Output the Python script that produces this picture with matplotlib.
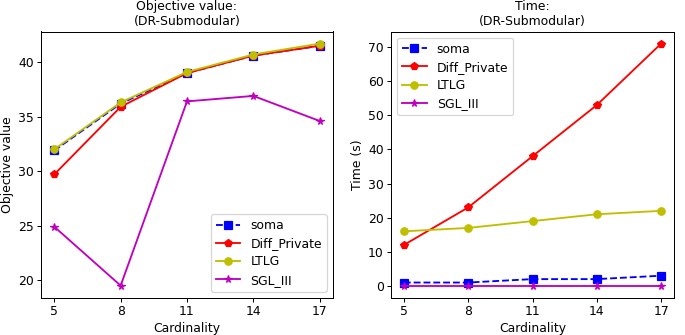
import matplotlib
matplotlib.use("Agg")
import matplotlib.pyplot as plt

cardinality = [5, 8, 11, 14, 17]
obj_soma = [31.9, 36.2, 39.0, 40.6, 41.5]
obj_diff = [29.7, 35.9, 39.0, 40.6, 41.5]
obj_ltlg = [32.0, 36.3, 39.1, 40.7, 41.7]
obj_sgl = [24.9, 19.5, 36.4, 36.9, 34.6]

time_soma = [1, 1, 2, 2, 3]
time_diff = [12, 23, 38, 53, 71]
time_ltlg = [16, 17, 19, 21, 22]
time_sgl = [0.1, 0.1, 0.1, 0.1, 0.1]

DPI = 89
W, H = 685, 335
plt.rcParams['xtick.major.pad'] = 2.5
plt.rcParams['ytick.major.pad'] = 2.5
plt.rcParams['legend.labelspacing'] = 0.42
fig = plt.figure(figsize=(W / DPI, H / DPI), dpi=DPI)
ax1 = fig.add_axes([41 / W, 1 - 297.7 / H, 292 / W, 266.2 / H])
ax2 = fig.add_axes([391 / W, 1 - 297.7 / H, 283 / W, 266.2 / H])

def draw(ax, soma, diff, ltlg, sgl):
    ax.plot(cardinality, soma, 'b--s', label='soma')
    ax.plot(cardinality, diff, 'r-p', label='Diff_Private')
    ax.plot(cardinality, ltlg, 'y-o', label='LTLG')
    ax.plot(cardinality, sgl, 'm-*', label='SGL_III')
    ax.set_xticks(cardinality)
    ax.set_xlabel('Cardinality', labelpad=3)

draw(ax1, obj_soma, obj_diff, obj_ltlg, obj_sgl)
ax1.set_ylabel('Objective value', labelpad=3)
ax1.set_title('Objective value:\n(DR-Submodular)', fontsize=10, pad=5)
ax1.legend(loc='lower right')

draw(ax2, time_soma, time_diff, time_ltlg, time_sgl)
ax2.set_ylabel('Time (s)', labelpad=3)
ax2.set_title('Time:\n(DR-Submodular)', fontsize=10, pad=5)
ax2.legend(loc='upper left')

fig.savefig('out.png', dpi=DPI)
